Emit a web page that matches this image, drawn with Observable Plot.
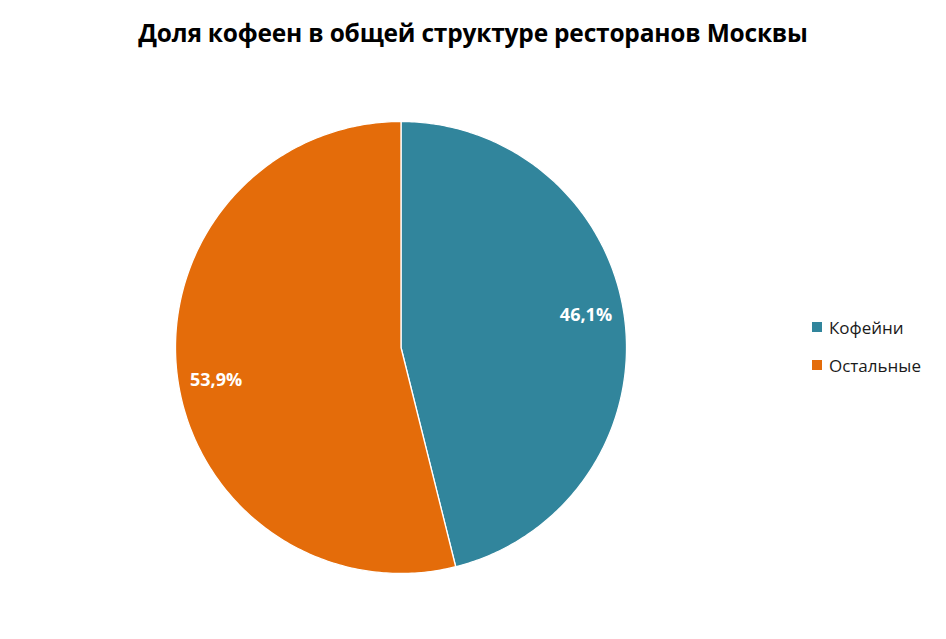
<!DOCTYPE html>
<html>
<head>
<meta charset="utf-8">
<script src="https://cdn.jsdelivr.net/npm/d3@7"></script>
<script src="https://cdn.jsdelivr.net/npm/@observablehq/plot@0.6"></script>
<style>
  html, body { margin: 0; padding: 0; background: #fff; }
  #wrap { position: relative; width: 946px; height: 639px; font-family: "Open Sans", "DejaVu Sans", sans-serif; }
  #title { position: absolute; left: 0; width: 946px; top: 16px; text-align: center; font-weight: 700; font-size: 24.5px; color: #000; letter-spacing: -0.2px; }
  #legend { position: absolute; left: 812px; top: 315px; font-size: 17px; color: #1a1a1a; }
  .item { display: flex; align-items: center; height: 24px; margin-bottom: 14px; }
  .sw { width: 10px; height: 10px; margin-right: 7px; }
  #chart { position: absolute; left: 0; top: 0; }
</style>
</head>
<body>
<div id="wrap">
  <div id="chart"></div>
  <div id="title"></div>
  <div id="legend"></div>
</div>
<script>
const title = "Доля кофеен в общей структуре ресторанов Москвы";
const categories = ["Кофейни", "Остальные"];
const values = [46.1, 53.9];
const labels = ["46,1%", "53,9%"];
const colors = ["#31859C", "#E46C0A"];

document.getElementById("title").textContent = title;
const legend = document.getElementById("legend");
categories.forEach((c, i) => {
  const d = document.createElement("div");
  d.className = "item";
  d.innerHTML = `<span class="sw" style="background:${colors[i]}"></span><span>${c}</span>`;
  legend.appendChild(d);
});

const arcs = d3.pie().sort(null).value(d => d.value)(categories.map((c, i) => ({name: c, value: values[i], label: labels[i]})));

const pts = [];
arcs.forEach(a => {
  const n = 240;
  pts.push({name: a.data.name, x: 0, y: 0});
  for (let k = 0; k <= n; k++) {
    const t = a.startAngle + (a.endAngle - a.startAngle) * k / n;
    pts.push({name: a.data.name, x: Math.sin(t), y: Math.cos(t)});
  }
  pts.push({name: a.data.name, x: 0, y: 0});
});
const lab = arcs.map(a => {
  const m = (a.startAngle + a.endAngle) / 2 - 3 * Math.PI / 180;
  const r = 0.833;
  return {label: a.data.label, x: Math.sin(m) * r, y: Math.cos(m) * r};
});

const chart = Plot.plot({
  width: 946,
  height: 639,
  marginLeft: 175,
  marginRight: 320,
  marginTop: 121,
  marginBottom: 66,
  x: {domain: [-1, 1], axis: null},
  y: {domain: [-1, 1], axis: null},
  color: {domain: categories, range: colors},
  marks: [
    Plot.line(pts, {x: "x", y: "y", z: "name", fill: "name", stroke: "white", strokeWidth: 1.3, curve: "linear"}),
    Plot.text(lab, {x: "x", y: "y", text: "label", fill: "white", fontWeight: 700, fontSize: 18, fontFamily: "Open Sans, DejaVu Sans, sans-serif"})
  ]
});
document.getElementById("chart").appendChild(chart);
</script>
</body>
</html>
